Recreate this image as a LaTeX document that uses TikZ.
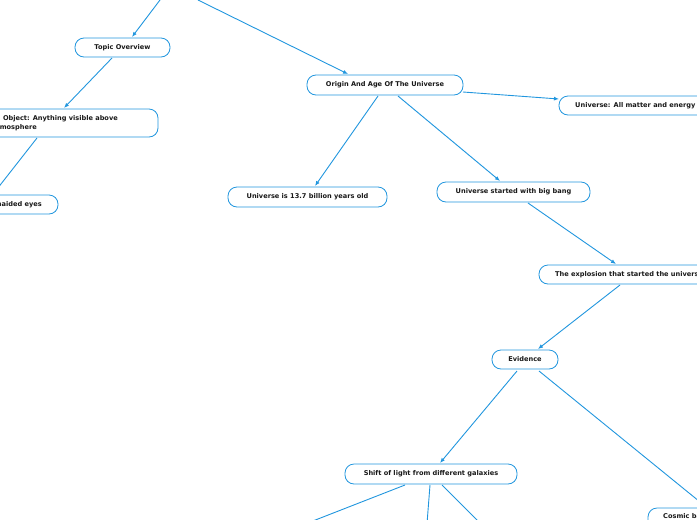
\documentclass[tikz,border=0pt]{standalone}
\usepackage{fontspec}
\setmainfont{DejaVu Sans}
\usetikzlibrary{calc,arrows.meta}
\definecolor{ln}{HTML}{2196DE}
\tikzset{
 box/.style={draw=ln,line width=0.8pt,rounded corners=9pt,fill=white},
 lbl/.style={font=\bfseries\fontsize{6.6}{8}\selectfont,text=black!90,inner sep=0pt},
 con/.style={draw=ln,line width=0.9pt,-{Latex[length=5pt,width=4pt]}},
}
\begin{document}
\begin{tikzpicture}[x=1pt,y=-1pt]
\useasboundingbox (0,0) rectangle (697,520);
\clip (0,0) rectangle (697,520);
% boxes
\draw[box] (75,38) rectangle (170,57); \node[lbl] (topic) at (122.5,47.5) {Topic Overview};
\draw[box] (-120,109) rectangle (158,137);
\node[lbl,anchor=east] (obj1) at (118,119) {Celestial Object: Anything visible above};
\node[lbl,anchor=east] (obj2) at (37,127.5) {the atmosphere};
\draw[box] (-140,195) rectangle (58,214); \node[lbl,anchor=east] (eyes) at (42,204.5) {Can be seen with unaided eyes};
\draw[box] (307,75) rectangle (463,95); \node[lbl] (origin) at (385,85) {Origin And Age Of The Universe};
\draw[box] (559,96) rectangle (760,115); \node[lbl,anchor=west] (matter) at (575,105.5) {Universe: All matter and energy};
\draw[box] (228,187) rectangle (387,207); \node[lbl] (age) at (307.5,197) {Universe is 13.7 billion years old};
\draw[box] (437,182) rectangle (590,202); \node[lbl] (bang) at (513.5,192) {Universe started with big bang};
\draw[box] (539,265) rectangle (780,284); \node[lbl,anchor=west] (expl) at (555,274.5) {The explosion that started the universe};
\draw[box] (492,350) rectangle (558,369); \node[lbl] (evid) at (525,359.5) {Evidence};
\draw[box] (345,464) rectangle (517,484); \node[lbl] (shift) at (431,474) {Shift of light from different galaxies};
\draw[box] (648,508) rectangle (820,530); \node[lbl,anchor=west] (cosmic) at (663,517) {Cosmic background radiation};
% connector end points
\coordinate (r1) at (160,0); \coordinate (r2) at (198,0);
\coordinate (s1) at (300,526); \coordinate (s2) at (426.5,530); \coordinate (s3) at (483,526);
\coordinate (e1) at (-10,198);
\draw[con] (r1) -- (132,37);
\draw[con] (r2) -- (348,74);
\draw[con] (112,58) -- (64,108);
\draw[con] (37,138) -- (e1);
\draw[con] (378,96) -- (315,186);
\draw[con] (398,96) -- (500,181);
\draw[con] (463,92) -- (559,99);
\draw[con] (528,203) -- (616,264);
\draw[con] (620,285) -- (538,349);
\draw[con] (517,371) -- (440,463);
\draw[con] (539,371) -- (705,506);
\draw[con] (405,485) -- (s1);
\draw[con] (430,485) -- (s2);
\draw[con] (442,485) -- (s3);
\end{tikzpicture}
\end{document}
